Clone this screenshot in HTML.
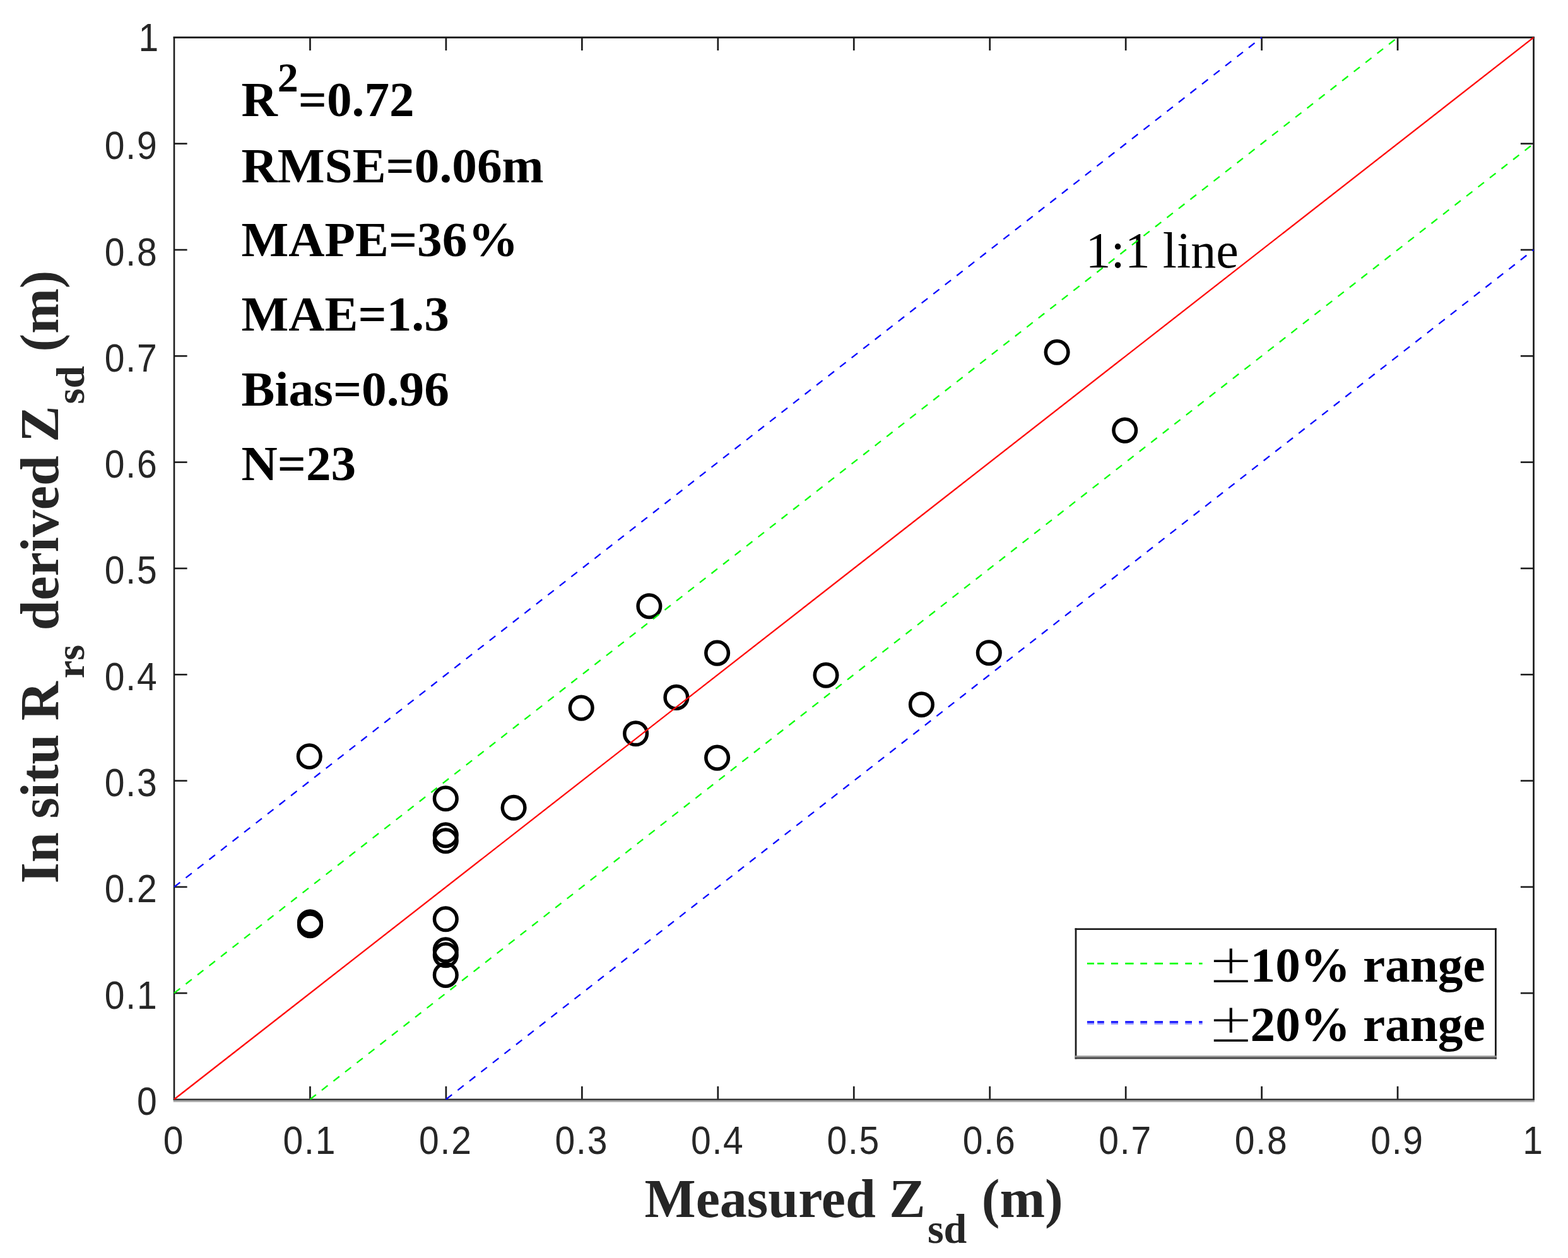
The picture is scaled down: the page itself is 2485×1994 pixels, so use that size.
<!DOCTYPE html>
<html><head><meta charset="utf-8"><title>Measured vs derived Zsd</title>
<style>html,body{margin:0;padding:0;background:#fff;overflow:hidden}svg{display:block}</style>
</head><body>
<svg width="2485" height="1994" viewBox="0 0 2485 1994">
<rect x="0" y="0" width="2485" height="1994" fill="#fff"/>
<g fill="#1c1c1c">
<rect x="274.7" y="58.0" width="2.6" height="1686"/>
<rect x="2429.2" y="58.0" width="2.7" height="1686"/>
<rect x="274.7" y="57.9" width="2157.2" height="2.9"/>
<rect x="490.10" y="1721.90" width="2.7" height="20.6"/>
<rect x="490.10" y="59.40" width="2.7" height="20.6"/>
<rect x="276.00" y="1572.89" width="20.6" height="2.6"/>
<rect x="2409.90" y="1572.89" width="20.6" height="2.6"/>
<rect x="705.55" y="1721.90" width="2.7" height="20.6"/>
<rect x="705.55" y="59.40" width="2.7" height="20.6"/>
<rect x="276.00" y="1404.58" width="20.6" height="2.6"/>
<rect x="2409.90" y="1404.58" width="20.6" height="2.6"/>
<rect x="921.00" y="1721.90" width="2.7" height="20.6"/>
<rect x="921.00" y="59.40" width="2.7" height="20.6"/>
<rect x="276.00" y="1236.27" width="20.6" height="2.6"/>
<rect x="2409.90" y="1236.27" width="20.6" height="2.6"/>
<rect x="1136.45" y="1721.90" width="2.7" height="20.6"/>
<rect x="1136.45" y="59.40" width="2.7" height="20.6"/>
<rect x="276.00" y="1067.96" width="20.6" height="2.6"/>
<rect x="2409.90" y="1067.96" width="20.6" height="2.6"/>
<rect x="1351.90" y="1721.90" width="2.7" height="20.6"/>
<rect x="1351.90" y="59.40" width="2.7" height="20.6"/>
<rect x="276.00" y="899.65" width="20.6" height="2.6"/>
<rect x="2409.90" y="899.65" width="20.6" height="2.6"/>
<rect x="1567.35" y="1721.90" width="2.7" height="20.6"/>
<rect x="1567.35" y="59.40" width="2.7" height="20.6"/>
<rect x="276.00" y="731.34" width="20.6" height="2.6"/>
<rect x="2409.90" y="731.34" width="20.6" height="2.6"/>
<rect x="1782.80" y="1721.90" width="2.7" height="20.6"/>
<rect x="1782.80" y="59.40" width="2.7" height="20.6"/>
<rect x="276.00" y="563.03" width="20.6" height="2.6"/>
<rect x="2409.90" y="563.03" width="20.6" height="2.6"/>
<rect x="1998.25" y="1721.90" width="2.7" height="20.6"/>
<rect x="1998.25" y="59.40" width="2.7" height="20.6"/>
<rect x="276.00" y="394.72" width="20.6" height="2.6"/>
<rect x="2409.90" y="394.72" width="20.6" height="2.6"/>
<rect x="2213.70" y="1721.90" width="2.7" height="20.6"/>
<rect x="2213.70" y="59.40" width="2.7" height="20.6"/>
<rect x="276.00" y="226.41" width="20.6" height="2.6"/>
<rect x="2409.90" y="226.41" width="20.6" height="2.6"/>
</g>
<rect x="274.7" y="1741.5" width="2157.2" height="2.5" fill="#363636"/>
<rect x="274.7" y="1744.0" width="2157.2" height="2.9" fill="#ababab"/>
<text transform="translate(275.50,1828.8) scale(0.905,1)" font-family="Liberation Sans, Arial, Helvetica, sans-serif" font-size="63" letter-spacing="2.0" fill="#262626" text-anchor="middle">0</text>
<text transform="translate(250.50,1767.00) scale(0.905,1)" font-family="Liberation Sans, Arial, Helvetica, sans-serif" font-size="63" letter-spacing="2.0" fill="#262626" text-anchor="end">0</text>
<text transform="translate(490.95,1828.8) scale(0.905,1)" font-family="Liberation Sans, Arial, Helvetica, sans-serif" font-size="63" letter-spacing="2.0" fill="#262626" text-anchor="middle">0.1</text>
<text transform="translate(250.50,1598.69) scale(0.905,1)" font-family="Liberation Sans, Arial, Helvetica, sans-serif" font-size="63" letter-spacing="2.0" fill="#262626" text-anchor="end">0.1</text>
<text transform="translate(706.40,1828.8) scale(0.905,1)" font-family="Liberation Sans, Arial, Helvetica, sans-serif" font-size="63" letter-spacing="2.0" fill="#262626" text-anchor="middle">0.2</text>
<text transform="translate(250.50,1430.38) scale(0.905,1)" font-family="Liberation Sans, Arial, Helvetica, sans-serif" font-size="63" letter-spacing="2.0" fill="#262626" text-anchor="end">0.2</text>
<text transform="translate(921.85,1828.8) scale(0.905,1)" font-family="Liberation Sans, Arial, Helvetica, sans-serif" font-size="63" letter-spacing="2.0" fill="#262626" text-anchor="middle">0.3</text>
<text transform="translate(250.50,1262.07) scale(0.905,1)" font-family="Liberation Sans, Arial, Helvetica, sans-serif" font-size="63" letter-spacing="2.0" fill="#262626" text-anchor="end">0.3</text>
<text transform="translate(1137.30,1828.8) scale(0.905,1)" font-family="Liberation Sans, Arial, Helvetica, sans-serif" font-size="63" letter-spacing="2.0" fill="#262626" text-anchor="middle">0.4</text>
<text transform="translate(250.50,1093.76) scale(0.905,1)" font-family="Liberation Sans, Arial, Helvetica, sans-serif" font-size="63" letter-spacing="2.0" fill="#262626" text-anchor="end">0.4</text>
<text transform="translate(1352.75,1828.8) scale(0.905,1)" font-family="Liberation Sans, Arial, Helvetica, sans-serif" font-size="63" letter-spacing="2.0" fill="#262626" text-anchor="middle">0.5</text>
<text transform="translate(250.50,925.45) scale(0.905,1)" font-family="Liberation Sans, Arial, Helvetica, sans-serif" font-size="63" letter-spacing="2.0" fill="#262626" text-anchor="end">0.5</text>
<text transform="translate(1568.20,1828.8) scale(0.905,1)" font-family="Liberation Sans, Arial, Helvetica, sans-serif" font-size="63" letter-spacing="2.0" fill="#262626" text-anchor="middle">0.6</text>
<text transform="translate(250.50,757.14) scale(0.905,1)" font-family="Liberation Sans, Arial, Helvetica, sans-serif" font-size="63" letter-spacing="2.0" fill="#262626" text-anchor="end">0.6</text>
<text transform="translate(1783.65,1828.8) scale(0.905,1)" font-family="Liberation Sans, Arial, Helvetica, sans-serif" font-size="63" letter-spacing="2.0" fill="#262626" text-anchor="middle">0.7</text>
<text transform="translate(250.50,588.83) scale(0.905,1)" font-family="Liberation Sans, Arial, Helvetica, sans-serif" font-size="63" letter-spacing="2.0" fill="#262626" text-anchor="end">0.7</text>
<text transform="translate(1999.10,1828.8) scale(0.905,1)" font-family="Liberation Sans, Arial, Helvetica, sans-serif" font-size="63" letter-spacing="2.0" fill="#262626" text-anchor="middle">0.8</text>
<text transform="translate(250.50,420.52) scale(0.905,1)" font-family="Liberation Sans, Arial, Helvetica, sans-serif" font-size="63" letter-spacing="2.0" fill="#262626" text-anchor="end">0.8</text>
<text transform="translate(2214.55,1828.8) scale(0.905,1)" font-family="Liberation Sans, Arial, Helvetica, sans-serif" font-size="63" letter-spacing="2.0" fill="#262626" text-anchor="middle">0.9</text>
<text transform="translate(250.50,252.21) scale(0.905,1)" font-family="Liberation Sans, Arial, Helvetica, sans-serif" font-size="63" letter-spacing="2.0" fill="#262626" text-anchor="end">0.9</text>
<text transform="translate(2430.00,1828.8) scale(0.905,1)" font-family="Liberation Sans, Arial, Helvetica, sans-serif" font-size="63" letter-spacing="2.0" fill="#262626" text-anchor="middle">1</text>
<text transform="translate(253.00,81.40) scale(0.905,1)" font-family="Liberation Sans, Arial, Helvetica, sans-serif" font-size="63" letter-spacing="2.0" fill="#262626" text-anchor="end">1</text>
<text x="1021.5" y="1928.5" font-family="Liberation Serif, Times New Roman, serif" font-weight="bold" font-size="86" fill="#262626">Measured Z<tspan font-size="66" dx="3.3" dy="41.8">sd</tspan><tspan dx="2" dy="-41.8"> (m)</tspan></text>
<text transform="translate(91.6,1400.4) rotate(-90)" x="0" y="0" font-family="Liberation Serif, Times New Roman, serif" font-weight="bold" font-size="86" fill="#262626">In situ R<tspan font-size="64" dx="5" dy="41.3">rs</tspan><tspan dx="1" dy="-41.3"> derived Z</tspan><tspan font-size="64" dx="3" dy="41.3">sd</tspan><tspan dx="1" dy="-41.3"> (m)</tspan></text>
<text x="382.5" y="183.9" font-family="Liberation Serif, Times New Roman, serif" font-weight="bold" font-size="79.3" fill="#000">R<tspan font-size="66" dy="-38.8">2</tspan><tspan dy="38.8">=0.72</tspan></text>
<text x="382.5" y="289.1" font-family="Liberation Serif, Times New Roman, serif" font-weight="bold" font-size="79.3" fill="#000">RMSE=0.06m</text>
<text x="382.5" y="406.0" font-family="Liberation Serif, Times New Roman, serif" font-weight="bold" font-size="79.3" fill="#000">MAPE=3<tspan>6</tspan><tspan dx="1.5">%</tspan></text>
<text x="382.5" y="523.9" font-family="Liberation Serif, Times New Roman, serif" font-weight="bold" font-size="79.3" fill="#000">MAE=1.3</text>
<text x="382.5" y="642.9" font-family="Liberation Serif, Times New Roman, serif" font-weight="bold" font-size="79.3" fill="#000">Bias=0.96</text>
<text x="382.5" y="760.8" font-family="Liberation Serif, Times New Roman, serif" font-weight="bold" font-size="79.3" fill="#000">N=23</text>
<text x="1720.6" y="423.5" font-family="Liberation Serif, Times New Roman, serif" font-size="80" fill="#000">1:1 line</text>
<g fill="none" stroke="#000" stroke-width="5.5">
<circle cx="1675.1" cy="558.3" r="17.8"/>
<circle cx="1782.7" cy="682.1" r="17.8"/>
<circle cx="1028.9" cy="960.7" r="17.8"/>
<circle cx="1136.6" cy="1035.1" r="17.8"/>
<circle cx="1309.0" cy="1070.2" r="17.8"/>
<circle cx="1567.3" cy="1034.7" r="17.8"/>
<circle cx="1460.4" cy="1116.7" r="17.8"/>
<circle cx="1071.9" cy="1105.4" r="17.8"/>
<circle cx="921.2" cy="1122.1" r="17.8"/>
<circle cx="1007.6" cy="1162.8" r="17.8"/>
<circle cx="1136.6" cy="1201.1" r="17.8"/>
<circle cx="490.3" cy="1198.9" r="17.8"/>
<circle cx="814.1" cy="1280.3" r="17.8"/>
<circle cx="706.3" cy="1265.8" r="17.8"/>
<circle cx="706.3" cy="1323.7" r="17.8"/>
<circle cx="706.3" cy="1332.8" r="17.8"/>
<circle cx="491.5" cy="1461.9" r="17.8"/>
<circle cx="491.5" cy="1466.8" r="17.8"/>
<circle cx="706.3" cy="1456.8" r="17.8"/>
<circle cx="706.3" cy="1505.8" r="17.8"/>
<circle cx="706.3" cy="1513.8" r="17.8"/>
<circle cx="706.3" cy="1545.4" r="17.8"/>
</g>
<line x1="276.00" y1="1742.50" x2="2430.50" y2="59.40" stroke="#ff0000" stroke-width="2.3" />
<line x1="276.00" y1="1574.19" x2="2215.05" y2="59.40" stroke="#00ff00" stroke-width="2.3" stroke-dasharray="11.9 11.59"/>
<line x1="491.45" y1="1742.50" x2="2430.50" y2="227.71" stroke="#00ff00" stroke-width="2.3" stroke-dasharray="11.9 11.59"/>
<line x1="276.00" y1="1405.88" x2="1999.60" y2="59.40" stroke="#0000ff" stroke-width="2.3" stroke-dasharray="11.9 11.59"/>
<line x1="706.90" y1="1742.50" x2="2430.50" y2="396.02" stroke="#0000ff" stroke-width="2.3" stroke-dasharray="11.9 11.59"/>
<rect x="1705" y="1472.7" width="665.4" height="204.4" fill="#fff"/>
<g fill="#1c1c1c">
<rect x="1703.6" y="1471.3" width="2.8" height="207.3"/>
<rect x="2369.0" y="1471.3" width="2.8" height="207.3"/>
<rect x="1703.6" y="1471.3" width="668.2" height="2.7"/>
</g>
<rect x="1703.6" y="1673.3" width="668.2" height="2.6" fill="#939393"/>
<rect x="1703.6" y="1675.9" width="668.2" height="2.7" fill="#444444"/>
<rect x="1722.9" y="1525.9" width="11.1" height="2.7" fill="#00ff00"/>
<rect x="1722.9" y="1618.5" width="11.1" height="2.8" fill="#0000ff"/>
<rect x="1722.9" y="1621.3" width="11.1" height="2.4" fill="#7f7fff"/>
<rect x="1739.1" y="1525.9" width="10.7" height="2.7" fill="#00ff00"/>
<rect x="1739.1" y="1618.5" width="10.7" height="2.8" fill="#0000ff"/>
<rect x="1739.1" y="1621.3" width="10.7" height="2.4" fill="#7f7fff"/>
<rect x="1760.9" y="1525.9" width="11.1" height="2.7" fill="#00ff00"/>
<rect x="1760.9" y="1618.5" width="11.1" height="2.8" fill="#0000ff"/>
<rect x="1760.9" y="1621.3" width="11.1" height="2.4" fill="#7f7fff"/>
<rect x="1783.2" y="1525.9" width="13.4" height="2.7" fill="#00ff00"/>
<rect x="1783.2" y="1618.5" width="13.4" height="2.8" fill="#0000ff"/>
<rect x="1783.2" y="1621.3" width="13.4" height="2.4" fill="#7f7fff"/>
<rect x="1807.3" y="1525.9" width="10.7" height="2.7" fill="#00ff00"/>
<rect x="1807.3" y="1618.5" width="10.7" height="2.8" fill="#0000ff"/>
<rect x="1807.3" y="1621.3" width="10.7" height="2.4" fill="#7f7fff"/>
<rect x="1829.6" y="1525.9" width="13.4" height="2.7" fill="#00ff00"/>
<rect x="1829.6" y="1618.5" width="13.4" height="2.8" fill="#0000ff"/>
<rect x="1829.6" y="1621.3" width="13.4" height="2.4" fill="#7f7fff"/>
<rect x="1853.7" y="1525.9" width="13.4" height="2.7" fill="#00ff00"/>
<rect x="1853.7" y="1618.5" width="13.4" height="2.8" fill="#0000ff"/>
<rect x="1853.7" y="1621.3" width="13.4" height="2.4" fill="#7f7fff"/>
<rect x="1878.3" y="1525.9" width="10.7" height="2.7" fill="#00ff00"/>
<rect x="1878.3" y="1618.5" width="10.7" height="2.8" fill="#0000ff"/>
<rect x="1878.3" y="1621.3" width="10.7" height="2.4" fill="#7f7fff"/>
<rect x="1900.1" y="1525.9" width="5.5" height="2.7" fill="#00ff00"/>
<rect x="1900.1" y="1618.5" width="5.5" height="2.8" fill="#0000ff"/>
<rect x="1900.1" y="1621.3" width="5.5" height="2.4" fill="#7f7fff"/>
<text x="1914.8" y="1557" font-family="DejaVu Sans, sans-serif" font-weight="200" font-size="86" fill="#000">±</text>
<text x="1914.8" y="1650.5" font-family="DejaVu Sans, sans-serif" font-weight="200" font-size="86" fill="#000">±</text>
<text x="1981.5" y="1556.2" font-family="Liberation Serif, Times New Roman, serif" font-weight="bold" font-size="79.3" fill="#000">10% range</text>
<text x="1981.5" y="1649.7" font-family="Liberation Serif, Times New Roman, serif" font-weight="bold" font-size="79.3" fill="#000">20% range</text>
</svg>
</body></html>
